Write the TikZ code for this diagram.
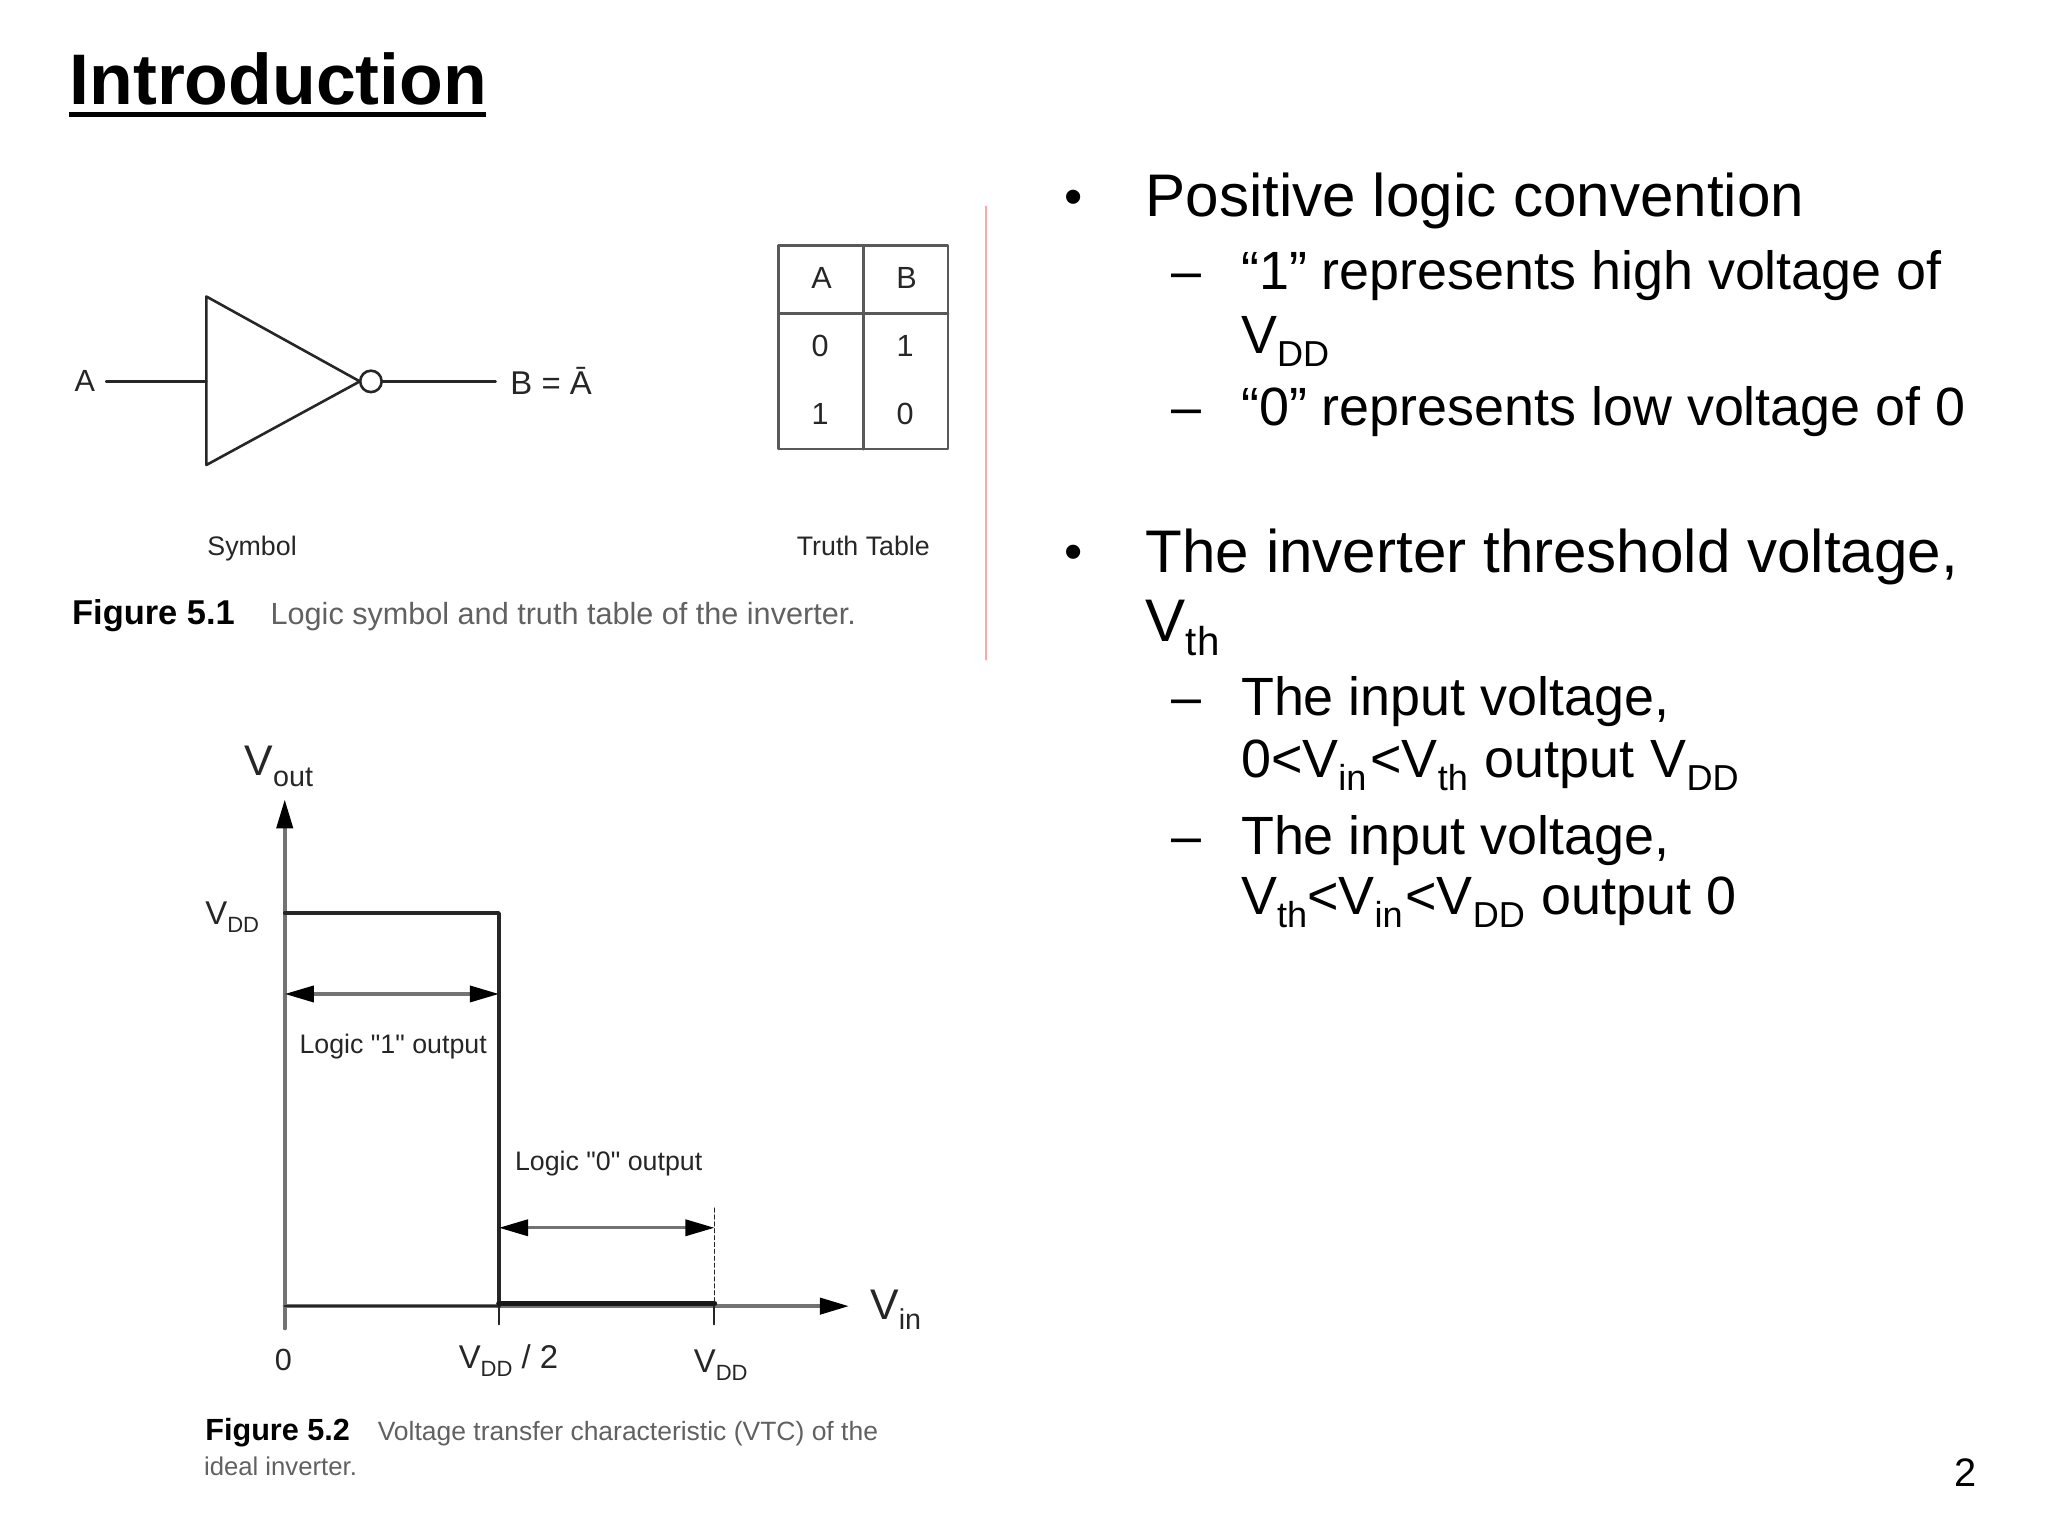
\documentclass[tikz,border=0pt]{standalone}
\usepackage{fontspec}
\setmainfont{Liberation Sans}
\newfontfamily\plainfont{Liberation Sans}
\usetikzlibrary{arrows.meta}
\newcommand{\lowsub}[1]{\raisebox{-0.24em}{\scalebox{0.67}{#1}}}
\begin{document}
\begin{tikzpicture}[line cap=round,line join=round,>={Triangle[length=19pt,width=10.5pt,color=black]},x=0.03cm,y=-0.03cm,
    heading/.style={anchor=base west,inner sep=0pt,font=\fontsize{46.8}{50}\selectfont\bfseries},
    topline/.style={anchor=base west,inner sep=0pt,font=\fontsize{39.3}{44}\selectfont},
    subline/.style={anchor=base west,inner sep=0pt,font=\fontsize{35.2}{40}\selectfont},
    bulletdot/.style={anchor=base west,inner sep=0pt,font=\fontsize{34}{38}\selectfont},
    figlabel/.style={inner sep=0pt,text=black!85,font=\fontsize{17.5}{20}\selectfont},
    figletter/.style={inner sep=0pt,text=black!85,font=\fontsize{20}{24}\selectfont},
    figvolt/.style={anchor=base west,inner sep=0pt,text=black!85,font=\fontsize{21.5}{24}\selectfont},
    figaxis/.style={anchor=base west,inner sep=0pt,text=black!85,font=\fontsize{28}{30}\selectfont},
    figbold/.style={anchor=base west,inner sep=0pt,font=\fontsize{20}{22}\selectfont\bfseries},
    figcap/.style={anchor=base west,inner sep=0pt,text=black!62,font=\fontsize{17.3}{22}\selectfont},
    axisline/.style={line width=2.6pt,color=black!55},
    curveline/.style={line width=2.4pt,color=black!85},
    thinline/.style={line width=1.3pt,color=black!85},
    spanline/.style={line width=2.2pt,color=black!55,<->},
    gateline/.style={line width=1.7pt,color=black!85},
    tableline/.style={line width=1.5pt,color=black!65}]
    \useasboundingbox (0,0) rectangle (1568,1178.3);
    \node [heading] (title) at (53,80) {Introduction};
    \coordinate (titleL) at (53,87.5);
    \coordinate (titleR) at (372,87.5);
    \draw [line width=3.4pt,line cap=butt] (titleL)-- (titleR);
    \coordinate (ruleT) at (755,158);
    \coordinate (ruleB) at (755,505);
    \draw [line width=1.2pt,color=red!35!white] (ruleT)-- (ruleB);
    % inverter
    \coordinate (triTop) at (158,227);
    \coordinate (triBot) at (158,356);
    \coordinate (triTip) at (275.5,292);
    \coordinate (triMid) at (158,292);
    \node [figletter,inner sep=7pt] (inA) at (65,292) {A};
    \node [circle,draw,line width=1.7pt,color=black!85,minimum size=14pt,inner sep=0pt] (bubble) at (284,292) {};
    \node [figletter,font=\fontsize{21.5}{24}\selectfont,inner sep=9.5pt] (outB) at (422,292) {B = Ā};
    \draw [gateline] (triTop)-- (triBot)-- (triTip)-- cycle;
    \draw [gateline] (inA)-- (triMid);
    \draw [gateline] (bubble)-- (outB);
    % truth table
    \coordinate (tabNW) at (596,188);
    \coordinate (tabSE) at (726,344);
    \coordinate (tabN) at (661,188);
    \coordinate (tabS) at (661,344);
    \coordinate (tabW) at (596,240);
    \coordinate (tabE) at (726,240);
    \draw [tableline] (tabNW) rectangle (tabSE);
    \draw [tableline] (tabN)-- (tabS);
    \draw [tableline] (tabW)-- (tabE);
    \node [figletter] (headA) at (629,213) {A};
    \node [figletter] (headB) at (694,213) {B};
    \node [figletter] (cellAa) at (628,265) {0};
    \node [figletter] (cellBa) at (693,265) {1};
    \node [figletter] (cellAb) at (628,317) {1};
    \node [figletter] (cellBb) at (693,317) {0};
    \node [figlabel] (symbolText) at (193,420) {Symbol};
    \node [figlabel] (tableText) at (661,418) {Truth Table};
    \node [figbold,font=\fontsize{22.5}{24}\selectfont\bfseries] (figOne) at (55,478) {Figure 5.1};
    \node [figcap,font=\fontsize{20}{22}\selectfont] (capOne) at (207,478) {Logic symbol and truth table of the inverter.};
    % transfer characteristic
    \coordinate (origin) at (218,1000);
    \coordinate (axisBot) at (218,1017);
    \coordinate (axisTop) at (218,612);
    \coordinate (axisEnd) at (650,1000);
    \coordinate (highL) at (218,699);
    \coordinate (highR) at (382,699);
    \coordinate (midB) at (382,1000);
    \coordinate (midTick) at (382,1014);
    \coordinate (lowL) at (382,998);
    \coordinate (lowR) at (547,998);
    \coordinate (endB) at (547,1000);
    \coordinate (endTick) at (547,1014);
    \coordinate (endTop) at (547,925);
    \coordinate (oneL) at (218,761);
    \coordinate (oneR) at (382,761);
    \coordinate (zeroL) at (382,940);
    \coordinate (zeroR) at (547,940);
    \draw [axisline,->] (axisBot)-- (axisTop);
    \draw [axisline,->] (origin)-- (axisEnd);
    \draw [thinline] (origin)-- (midB);
    \draw [curveline] (highL)-- (highR)-- (midB);
    \draw [line width=3.6pt,color=black!90] (lowL)-- (lowR);
    \draw [thinline] (midB)-- (midTick);
    \draw [thinline] (endB)-- (endTick);
    \draw [line width=1pt,color=black!85,dash pattern=on 2.5pt off 2pt] (endTop)-- (lowR);
    \draw [spanline] (oneL)-- (oneR);
    \draw [spanline] (zeroL)-- (zeroR);
    \node [figaxis] (vOut) at (187,594) {V\lowsub{out}};
    \node [figvolt] (vHigh) at (157,708) {V\lowsub{DD}};
    \node [figlabel,font=\fontsize{17.5}{20}\plainfont] (logicOne) at (301,801) {Logic "1" output};
    \node [figlabel,font=\fontsize{17.5}{20}\plainfont] (logicZero) at (466,891) {Logic "0" output};
    \node [figaxis] (vIn) at (666,1010) {V\lowsub{in}};
    \node [figletter] (tickZero) at (217,1041) {0};
    \node [figvolt] (tickMid) at (351,1048) {V\lowsub{DD} / 2};
    \node [figvolt] (tickEnd) at (531,1051) {V\lowsub{DD}};
    \node [figbold] (figTwo) at (157,1103) {Figure 5.2};
    \node [figcap] (capTwo) at (289,1103) {Voltage transfer characteristic (VTC) of the};
    \node [figcap,font=\fontsize{16.8}{22}\selectfont] (capThree) at (156,1130) {ideal inverter.};
    % slide text
    \node [bulletdot] (dotOne) at (815,164) {•};
    \node [topline] (lineOne) at (877,166) {Positive logic convention};
    \node [subline] (dashOne) at (897,222) {–};
    \node [subline] (lineTwo) at (950,222) {“1” represents high voltage of};
    \node [subline] (lineThree) at (950,271) {V\lowsub{DD}};
    \node [subline] (dashTwo) at (897,326) {–};
    \node [subline] (lineFour) at (950,326) {“0” represents low voltage of 0};
    \node [bulletdot] (dotTwo) at (815,436) {•};
    \node [topline] (lineFive) at (877,438) {The inverter threshold voltage,};
    \node [topline] (lineSix) at (877,491) {V\lowsub{th}};
    \node [subline] (dashThree) at (897,548) {–};
    \node [subline] (lineSeven) at (950,548) {The input voltage,};
    \node [subline] (lineEight) at (950,595) {0<V\lowsub{in}\kern2.5pt<V\lowsub{th}\kern1pt{} output\kern1pt{} V\lowsub{DD}};
    \node [subline] (dashFour) at (897,654) {–};
    \node [subline] (lineNine) at (950,654) {The input voltage,};
    \node [subline] (lineTen) at (950,700) {V\lowsub{th}<V\lowsub{in}\kern1.8pt<V\lowsub{DD}\kern1pt{} output 0};
    \node [anchor=base west,inner sep=0pt,font=\fontsize{26}{30}\selectfont] (pageNum) at (1496,1138) {2};
\end{tikzpicture}
\end{document}
